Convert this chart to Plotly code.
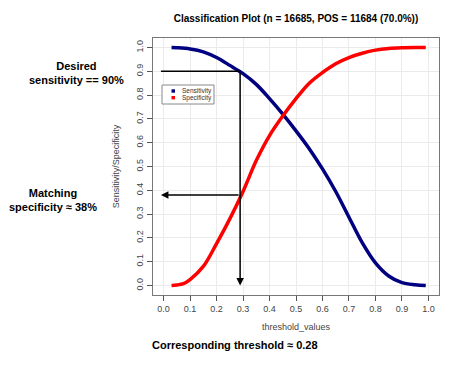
import plotly.graph_objects as go

thr_sens = [0.03, 0.05, 0.10, 0.15, 0.20, 0.25, 0.30, 0.35, 0.40, 0.45, 0.50, 0.55,
            0.60, 0.65, 0.70, 0.75, 0.80, 0.85, 0.90, 0.95, 0.99]
sensitivity = [1.0, 0.999, 0.994, 0.982, 0.958, 0.925, 0.890, 0.845, 0.785, 0.720, 0.650,
               0.575, 0.490, 0.395, 0.287, 0.180, 0.095, 0.040, 0.012, 0.003, 0.0]

thr_spec = [0.03, 0.05, 0.075, 0.10, 0.15, 0.20, 0.25, 0.30, 0.35, 0.40, 0.45, 0.50, 0.55,
            0.60, 0.65, 0.70, 0.75, 0.80, 0.85, 0.90, 0.95, 0.99]
specificity = [0.0, 0.002, 0.008, 0.025, 0.08, 0.176, 0.28, 0.395, 0.525, 0.63, 0.712, 0.785,
               0.85, 0.895, 0.932, 0.958, 0.976, 0.989, 0.996, 0.999, 1.0, 1.0]

desired_sens = 0.9
threshold = 0.289
matching_spec = 0.38

ticks = [0.0, 0.1, 0.2, 0.3, 0.4, 0.5, 0.6, 0.7, 0.8, 0.9, 1.0]
tick_text = [f"{t:.1f}" for t in ticks]
legend_names = ["Sensitivity", "Specificity"]

NAVY = "#000080"
RED = "#ff0000"
COLORS = [NAVY, RED]

W, H = 474, 365
L, R, T, B = 153, 35, 38, 70
pw, ph = W - L - R, H - T - B


def px(xp):
    return (xp - L) / pw


def py(yp):
    return (H - B - yp) / ph


fig = go.Figure()
fig.add_trace(go.Scatter(x=thr_sens, y=sensitivity, mode="lines",
                         line=dict(color=NAVY, width=3.5, shape="spline", smoothing=1.0), showlegend=False))
fig.add_trace(go.Scatter(x=thr_spec, y=specificity, mode="lines",
                         line=dict(color=RED, width=3.5, shape="spline", smoothing=1.0), showlegend=False))

# horizontal line at desired sensitivity
fig.add_trace(go.Scatter(x=[-0.01, threshold], y=[desired_sens, desired_sens], mode="lines",
                         line=dict(color="black", width=1.5), showlegend=False, hoverinfo="skip"))

fig.add_annotation(x=threshold, y=0.0, ax=threshold, ay=desired_sens, xref="x", yref="y",
                   axref="x", ayref="y", showarrow=True, arrowhead=2, arrowsize=1, arrowwidth=1.5,
                   arrowcolor="black", text="")
fig.add_annotation(x=-0.01, y=matching_spec, ax=threshold, ay=matching_spec, xref="x", yref="y",
                   axref="x", ayref="y", showarrow=True, arrowhead=2, arrowsize=1, arrowwidth=1.5,
                   arrowcolor="black", text="")

FONT = "Liberation Sans, Arial, sans-serif"
bold_font = dict(family=FONT, size=11, color="black")
fig.add_annotation(x=px(76), y=py(72.5), xref="paper", yref="paper",
                   text="<b>Desired<br>sensitivity == 90%</b>", xanchor="center", yanchor="middle",
                   showarrow=False, font=bold_font, align="center")
fig.add_annotation(x=px(53), y=py(199.5), xref="paper", yref="paper",
                   text="<b>Matching<br>specificity ≈ 38%</b>", xanchor="center", yanchor="middle",
                   showarrow=False, font=bold_font, align="center")
fig.add_annotation(x=px(235), y=py(345), xref="paper", yref="paper",
                   text="<b>Corresponding threshold ≈ 0.28</b>", xanchor="center", yanchor="middle",
                   showarrow=False, font=bold_font, align="center")

# manual legend box (R-style)
fig.add_shape(type="rect", xref="paper", yref="paper", x0=px(162), x1=px(214), y0=py(85), y1=py(104),
              line=dict(color="#888888", width=1), fillcolor="white", layer="above")
for i, (name, col) in enumerate(zip(legend_names, COLORS)):
    yc = 91 + i * 6.7
    fig.add_shape(type="rect", xref="paper", yref="paper", x0=px(171.5), x1=px(175), y0=py(yc - 1.7),
                  y1=py(yc + 1.7), line=dict(width=0), fillcolor=col, layer="above")
    fig.add_annotation(x=px(179.5), y=py(yc), xref="paper", yref="paper", text=name, xanchor="left",
                       yanchor="middle", showarrow=False, font=dict(family=FONT, size=6.5, color="#333333"))

axis_common = dict(range=[-0.04, 1.04], tickvals=ticks, ticktext=tick_text, showgrid=True,
                   gridcolor="#ebebeb", gridwidth=1, zeroline=False, showline=True, mirror=True,
                   linecolor="#777777", linewidth=1, ticks="outside", ticklen=5, tickcolor="#555555",
                   tickfont=dict(family=FONT, size=9, color="#444444"))

fig.update_layout(
    width=W, height=H,
    margin=dict(l=L, r=R, t=T, b=B),
    paper_bgcolor="white", plot_bgcolor="white",
    title=dict(text="<b>Classification Plot (n = 16685, POS = 11684 (70.0%))</b>", x=(L + pw / 2) / W,
               xanchor="center", y=1 - 18 / H, yanchor="middle",
               font=dict(family=FONT, size=10, color="black")),
    xaxis=dict(**axis_common, title=dict(text="threshold_values", standoff=10,
                                         font=dict(family=FONT, size=9, color="#444444"))),
    yaxis=dict(**axis_common, tickangle=-90, title=dict(text="Sensitivity/Specificity", standoff=14,
                                                        font=dict(family=FONT, size=9, color="#444444"))),
    showlegend=False,
)

fig.write_html("out.html", config={"displayModeBar": False},
               post_script="document.body.style.margin='0px';")
